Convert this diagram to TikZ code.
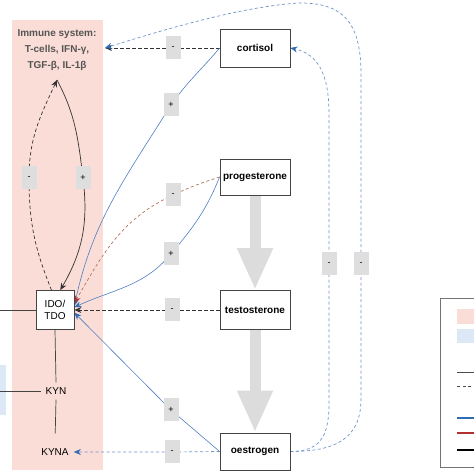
\documentclass[tikz,border=0pt]{standalone}
\usepackage{fontspec}
\setmainfont{Liberation Sans}
\usetikzlibrary{arrows.meta,calc}
\definecolor{immpink}{HTML}{FADDD6}
\definecolor{kynblue}{HTML}{DDE8F7}
\definecolor{signgrey}{HTML}{DEDEDE}
\definecolor{flowgrey}{HTML}{DCDCDC}
\definecolor{boxgrey}{HTML}{444444}
\definecolor{linkblue}{HTML}{4F7DC2}
\definecolor{dashblue}{HTML}{6E93CA}
\definecolor{tipblue}{HTML}{2F6CB4}
\definecolor{dashred}{HTML}{B7705A}
\definecolor{legred}{HTML}{B33030}
\definecolor{immtext}{HTML}{555555}
\pgfdeclarelayer{back}
\pgfdeclarelayer{links}
\pgfsetlayers{back,links,main}
\tikzset{
	hormone/.style={draw=boxgrey, fill=white, line width=0.8pt, minimum width=70pt, minimum height=37pt, inner sep=0pt, font=\bfseries\fontsize{10}{12}\selectfont},
	enzyme/.style={draw=boxgrey, fill=white, line width=0.8pt, minimum width=38pt, minimum height=39pt, inner sep=0pt, align=center, font=\fontsize{10}{12}\selectfont},
	metab/.style={inner sep=5pt, font=\fontsize{10}{12}\selectfont},
	signbox/.style={fill=signgrey, minimum width=15pt, minimum height=23pt, inner sep=0pt, font=\fontsize{9}{10}\selectfont},
	bluelink/.style={draw=linkblue, line width=0.6pt, -{Stealth[length=7pt,width=6pt,color=tipblue]}},
	bluedash/.style={draw=dashblue, line width=0.7pt, dash pattern=on 3pt off 2.5pt, -{Stealth[length=7pt,width=6pt,color=tipblue]}},
	reddash/.style={draw=dashred, line width=0.7pt, dash pattern=on 3pt off 2.5pt, -{Stealth[length=7pt,width=6pt,color=legred]}},
	blackdash/.style={draw=black!80, line width=0.7pt, dash pattern=on 3.5pt off 2.5pt, -{Stealth[length=7pt,width=6pt]}},
	blacklink/.style={draw=black!80, line width=0.7pt, -{Stealth[length=7pt,width=6pt]}},
	flowstep/.style={draw=flowgrey, line width=11pt, -{Triangle[width=33pt,length=42pt]}},
}

\begin{document}
\begin{tikzpicture}[x=1pt, y=1pt]
		%%%%% START %%%%%
		\useasboundingbox (0,0) rectangle (474,474);
		
		% immune column and kynurenine strip
		\begin{pgfonlayer}{back}
			\fill[immpink] (12,4) rectangle (103,454);
			\fill[kynblue] (0,59) rectangle (6,109);
		\end{pgfonlayer}
		
		\node[font=\bfseries\fontsize{10}{16}\selectfont, text=immtext, align=center] (immune) at (57,424) {Immune system:\\T-cells, IFN-γ,\\TGF-β, IL-1β};
		\coordinate (immtip) at (105,426);
		\coordinate (immbase) at (57,394);
		
		% hormones
		\node[hormone, minimum height=38pt] (cortisol) at (255,426) {cortisol};
		\node[hormone, minimum height=36pt] (progesterone) at (255,297) {progesterone};
		\node[hormone, minimum height=39pt] (testosterone) at (255,164) {testosterone};
		\node[hormone] (oestrogen) at (255,22.5) {oestrogen};
		
		% pathway
		\node[enzyme] (ido) at (55,164) {IDO/\\TDO};
		\node[metab] (kyn) at (56,83) {KYN};
		\node[metab] (kyna) at (55,22) {KYNA};
		\coordinate (edgeido) at (0,164);
		\coordinate (edgekyn) at (0,83);
		
		% signs
		\node[signbox] (m1) at (173,426) {-};
		\node[signbox] (p1) at (171,369) {+};
		\node[signbox] (m2) at (173,279) {-};
		\node[signbox] (p2) at (171,220) {+};
		\node[signbox] (m3) at (172,164) {-};
		\node[signbox] (p3) at (171,64) {+};
		\node[signbox] (m4) at (172,22) {-};
		\node[signbox] (m5) at (29,296) {-};
		\node[signbox] (p4) at (83,296) {+};
		\node[signbox] (m6) at (329,210) {-};
		\node[signbox] (m7) at (361,210) {-};
		
		\begin{pgfonlayer}{links}
			\draw[boxgrey, line width=0.7pt] (ido.west) -- (edgeido);
			\draw[boxgrey, line width=0.7pt] (kyn.west) -- (edgekyn);
			\draw[boxgrey, line width=0.7pt] (ido.south) -- (kyn.north);
			\draw[boxgrey, line width=0.7pt, shorten >=10pt] (kyn.south) -- (kyna.north);
			
			\draw[blackdash] (cortisol.west) -- (m1.center) -- (immtip);
			\draw[bluedash] (oestrogen.east) .. controls (335,22.5) and (361,35) .. (361,75) -- (m7.center) -- (361,400) .. controls (361,455) and (340,471) .. (300,471) .. controls (240,468) and (150,440) .. (immtip);
			\draw[bluedash] (oestrogen.east) .. controls (318,22.5) and (329,35) .. (329,70) -- (m6.center) -- (329,360) .. controls (329,400) and (318,420) .. (cortisol.east);
			
			\draw[bluelink] (cortisol.west) to[out=-130,in=55] (p1.center) to[out=-122,in=78] (ido.12);
			\draw[reddash] (progesterone.west) to[out=198,in=25] (m2.center) to[out=205,in=60] (ido.20);
			\draw[bluelink] (progesterone.west) to[out=-112,in=50] (p2.center) to[out=230,in=25] (ido.8);
			\draw[blackdash] (testosterone.west) -- (m3.center) -- (ido.east);
			\draw[bluelink] (oestrogen.west) -- (p3.center) -- (ido.-8);
			\draw[bluedash] (oestrogen.west) -- (m4.center) -- (kyna.east);
			
			\draw[blackdash] (ido.100) to[out=112,in=-90] (m5.center) to[out=90,in=-115] (immbase);
			\draw[blacklink] (immbase) to[out=-62,in=97] (p4.center) to[out=-83,in=60] (ido.75);
			
			\draw[flowstep] (progesterone.south) -- (testosterone.north);
			\draw[flowstep] (testosterone.south) -- (oestrogen.north);
		\end{pgfonlayer}
		
		% legend
		\draw[black!55, line width=0.8pt] (440,7) rectangle (480,176);
		\fill[immpink] (457,150) rectangle (480,165);
		\fill[kynblue] (457,131) rectangle (480,145);
		\draw[black!70, line width=0.7pt] (457,102) -- (480,102);
		\draw[black!70, line width=0.7pt, dash pattern=on 3pt off 2.5pt] (457,88) -- (480,88);
		\draw[tipblue, line width=2.5pt] (457,56) -- (480,56);
		\draw[legred, line width=2.5pt] (457,41) -- (480,41);
		\draw[black, line width=2.5pt] (457,24) -- (480,24);
		
		%%%%% END %%%%%
\end{tikzpicture}
\end{document}
